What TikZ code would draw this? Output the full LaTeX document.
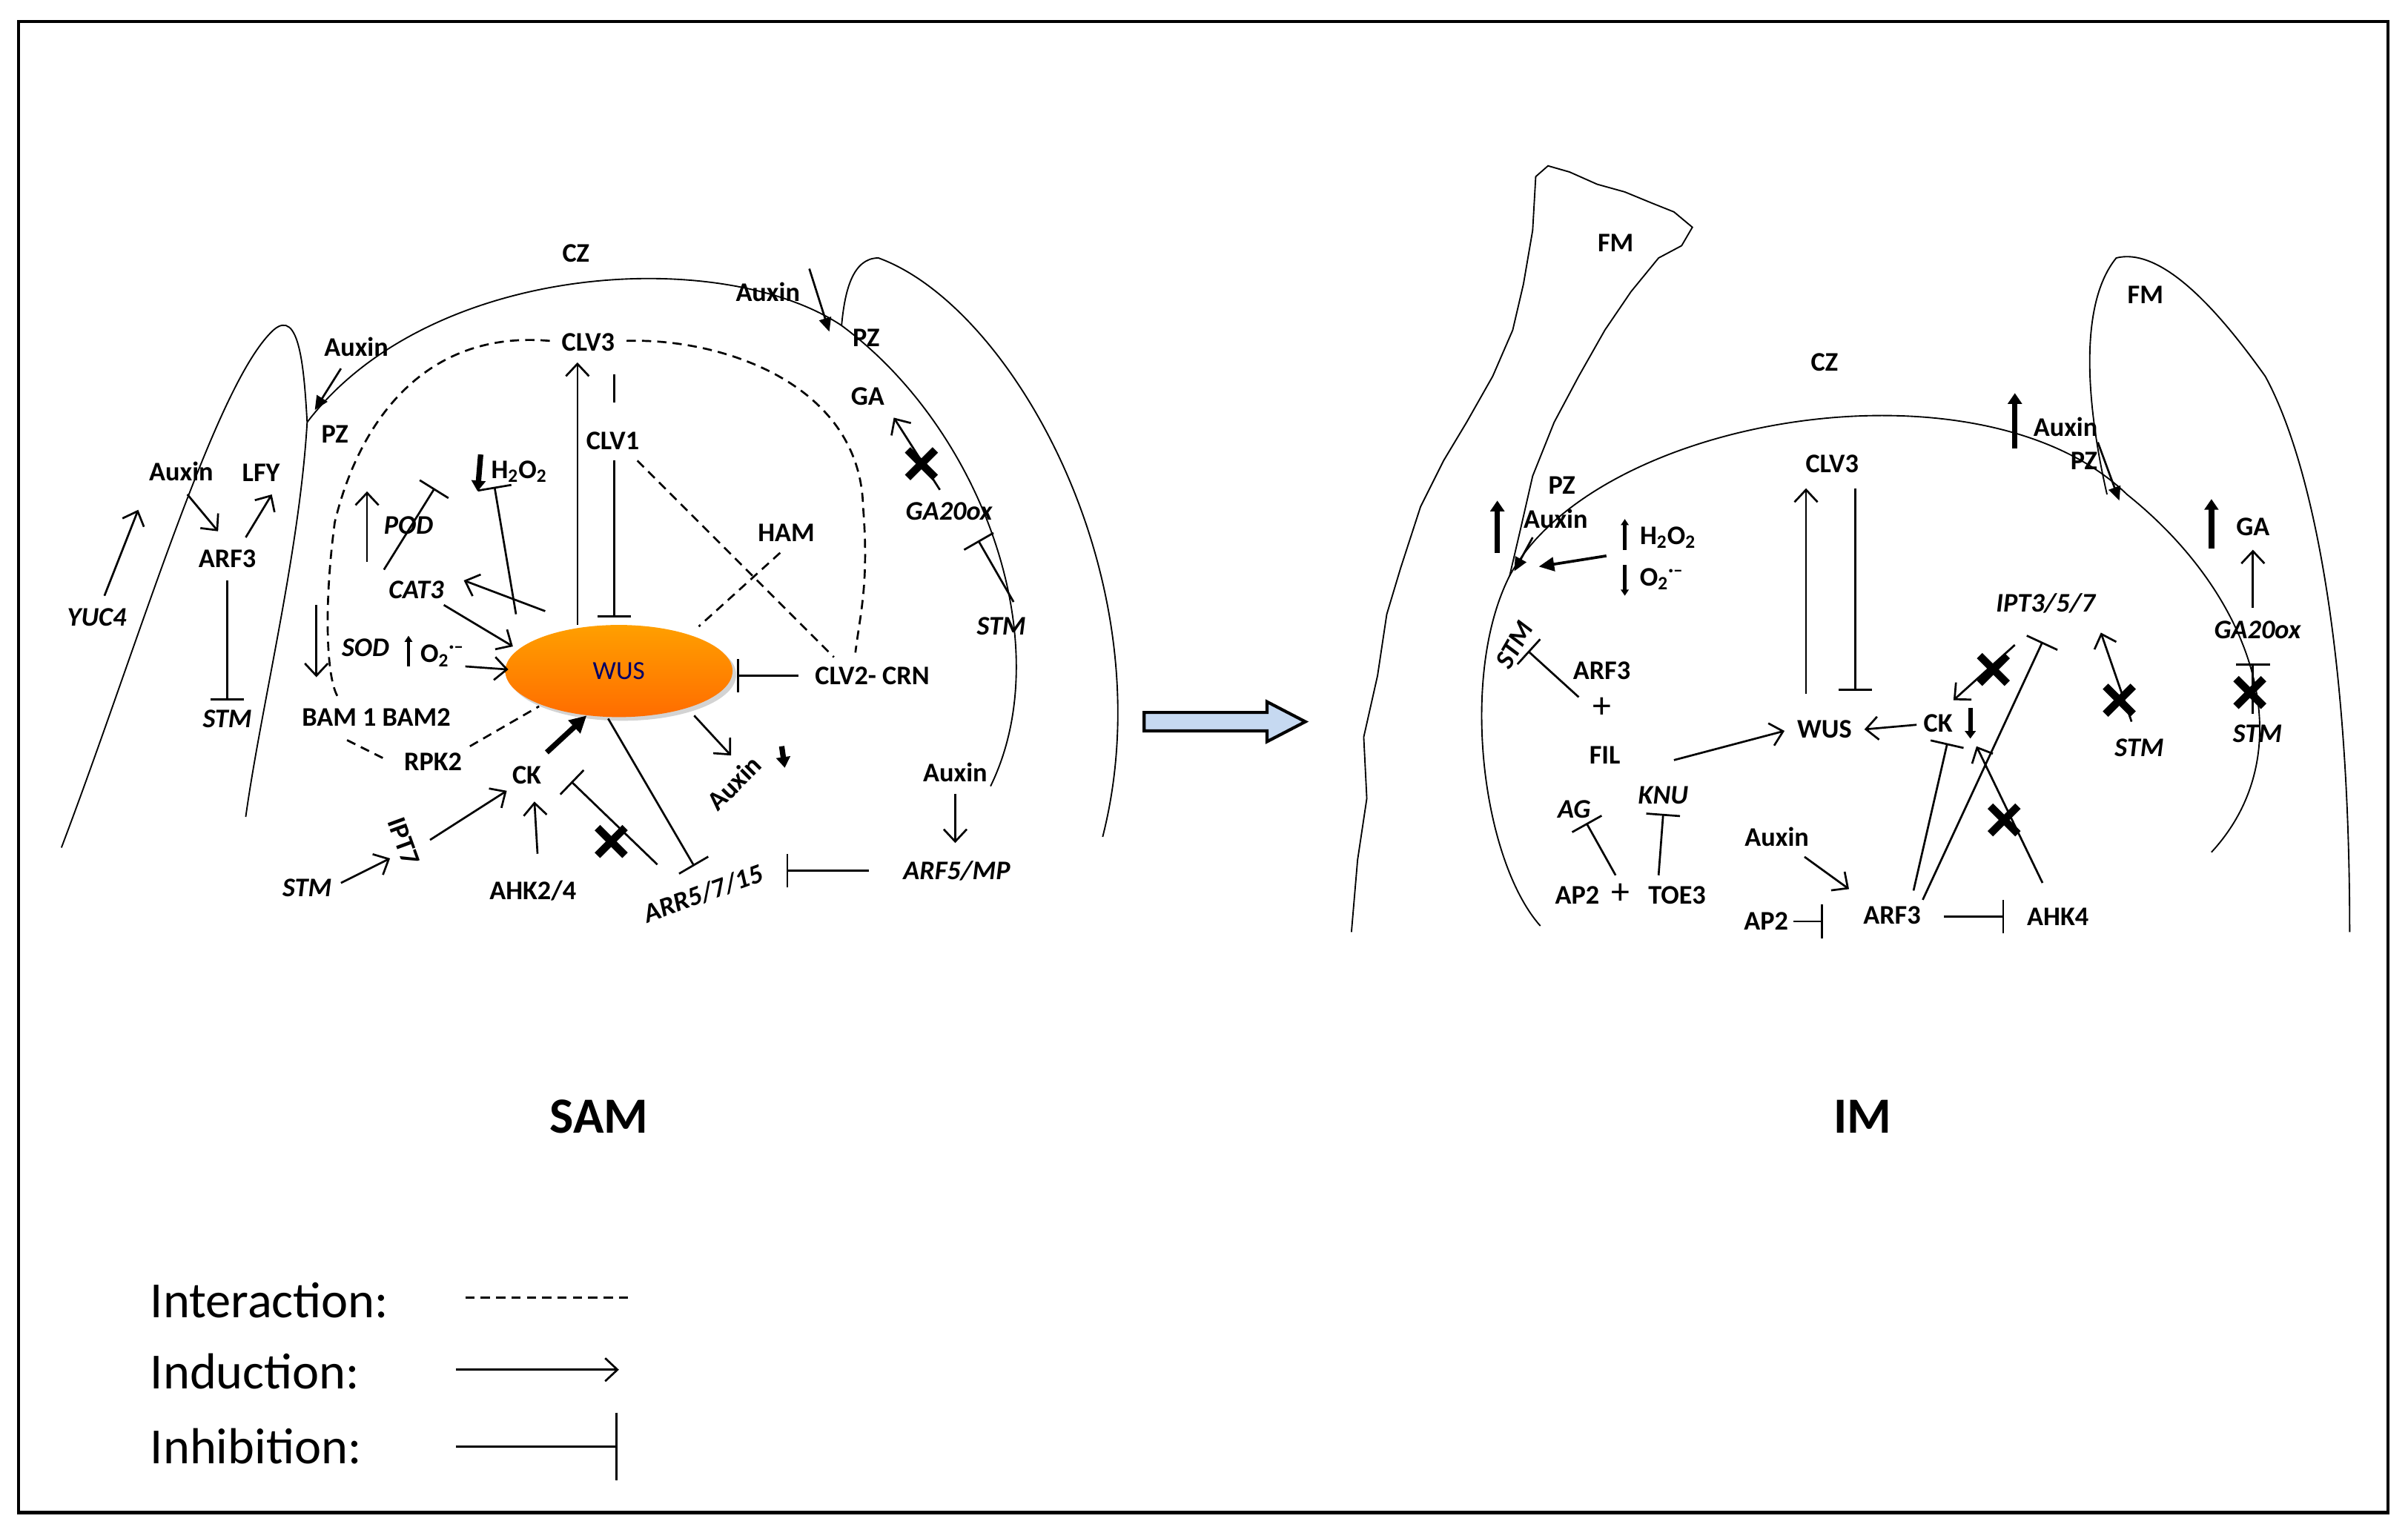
\documentclass[tikz,border=0pt]{standalone}
\usepackage{fontspec}
\setmainfont{Carlito}
\usetikzlibrary{arrows.meta,shapes.geometric,shadows,calc}
\definecolor{blk}{RGB}{198,217,241}
\begin{document}
\begin{tikzpicture}[x=1pt,y=-1pt,line width=1.3pt,
 lab/.style={font=\fontsize{17.5}{19}\selectfont\bfseries,inner sep=1pt},
 itl/.style={font=\fontsize{17.5}{19}\selectfont\bfseries\itshape,inner sep=1pt},
 ind/.style={-{Straight Barb[length=8pt,width=15pt]}},
 inh/.style={-{Bar[width=22pt]}},
 bold/.style={-{Triangle[length=7pt,width=9pt]},line width=3.5pt},
 dsh/.style={dashed,dash pattern=on 6pt off 4pt,line width=1.3pt},
 thin/.style={line width=0.9pt},
 xm/.style={line width=5pt}]
\useasboundingbox (0,0) rectangle (1568,996);
\draw[line width=2.2pt] (12,14) rectangle (1555,985);
\newcommand{\xmark}[2]{\draw[xm] ($(#1,#2)+(-9,-9)$)--($(#1,#2)+(9,9)$);\draw[xm] ($(#1,#2)+(-9,9)$)--($(#1,#2)+(9,-9)$);}
% ===== LEFT: SAM =====
\draw[thin] (40,552) .. controls (90,420) and (140,250) .. (178,215) .. controls (195,200) and (198,240) .. (200,275) .. controls (195,360) and (170,460) .. (160,532);
\draw[thin] (200,275) .. controls (280,170) and (470,160) .. (548,212) .. controls (640,280) and (690,420) .. (645,512);
\draw[thin] (548,212) .. controls (550,190) and (555,168) .. (572,168) .. controls (660,200) and (760,380) .. (718,545);
\node[lab] (cz) at (375,165) {CZ};
\node[lab] (aux1) at (232,226) {Auxin};
\node[lab] (pz1) at (218,283) {PZ};
\draw[-{Triangle[length=9pt,width=8pt]},line width=1.3pt] (222,240) -- (205,267);
\node[lab] (aux2) at (118,307) {Auxin};
\node[lab] (lfy) at (170,308) {LFY};
\node[lab] (arf3) at (148,364) {ARF3};
\node[itl] (yuc4) at (63,402) {YUC4};
\node[itl] (stm1) at (148,468) {STM};
\draw[ind] (122,322) -- (142,346);
\draw[ind] (160,350) -- (177,322);
\draw[ind] (68,388) -- (90,332);
\draw[inh] (148,378) -- (148,456);
\node[lab] (clv3) at (383,223) {CLV3};
\node[lab] (aux3) at (500,190) {Auxin};
\node[lab] (pz2) at (564,220) {PZ};
\draw[-{Triangle[length=9pt,width=8pt]},line width=1.3pt] (527,175) -- (540,216);
\node[lab] (ga) at (565,258) {GA};
\node[itl] (ga20) at (618,333) {GA20ox};
\draw[ind] (612,319) -- (582,272);
\xmark{600}{302}
\node[itl] (stm2) at (652,408) {STM};
\draw[inh] (660,392) -- (637,352);
\node[lab] (clv1) at (399,287) {CLV1};
\node[lab] (ham) at (512,347) {HAM};
% WUS
\node[ellipse,minimum width=148pt,minimum height=60pt,top color=orange!75!yellow,bottom color=orange!85!red,draw=none,drop shadow={opacity=0.35},text=blue!40!black,font=\fontsize{17}{18}\selectfont] (wus) at (403,437) {WUS};
\draw[ind] (376,407) -- (376,236);
\draw (400,244) -- (400,262);
\draw[inh] (400,300) -- (400,402);
% dashed
\draw[dsh] (358,222) .. controls (280,215) and (235,270) .. (218,340) .. controls (210,400) and (213,450) .. (222,456);
\draw[dsh] (408,222) .. controls (470,220) and (560,250) .. (562,330) .. controls (566,380) and (560,400) .. (557,425);
\draw[dsh] (415,300) -- (543,428);
\draw[dsh] (508,360) -- (455,408);
\draw[dsh] (226,482) -- (250,494);
\draw[dsh] (306,486) -- (351,460);
\node[lab] (bam) at (245,467) {BAM 1 BAM2};
\node[lab] (rpk2) at (282,496) {RPK2};
\node[lab] (h2o2) at (338,307) {H\textsubscript{2}O\textsubscript{2}};
\draw[bold] (313,296) -- (311,320);
\node[itl] (pod) at (266,342) {POD};
\draw[ind] (239,366) -- (239,320);
\node[itl] (cat3) at (271,384) {CAT3};
\node[itl] (sod) at (238,422) {SOD};
\draw[ind] (206,394) -- (206,441);
\node[lab] (o2) at (288,427) {O\textsubscript{2}\textsuperscript{·--}};
\draw[-{Triangle[length=4pt,width=5pt]},line width=2.2pt] (266,434) -- (266,414);
\draw[ind] (303,434) -- (331,436);
\draw[ind] (355,398) -- (302,378);
\draw[ind] (289,394) -- (334,421);
\draw[inh] (250,371) -- (283,318);
\draw[inh] (336,400) -- (322,317);
\node[lab] (crn) at (568,440) {CLV2- CRN};
\draw[inh] (520,440) -- (480,440);
\draw[ind] (452,466) -- (476,492);
\node[lab,rotate=45] (aux4) at (478,510) {Auxin};
\draw[bold] (509,486) -- (511,500);
\node[lab] (ck) at (343,505) {CK};
\draw[-{Triangle[length=11pt,width=11pt]},line width=3.5pt] (356,490) -- (382,466);
\node[lab,rotate=-70] (ipt7) at (263,548) {IPT7};
\node[itl] (stm3) at (200,578) {STM};
\draw[ind] (222,575) -- (254,559);
\draw[ind] (280,547) -- (330,515);
\node[lab] (ahk) at (347,580) {AHK2/4};
\draw[ind] (350,556) -- (348,522);
\node[itl,rotate=20] (arr) at (458,582) {ARR5/7/15};
\draw[inh] (428,563) -- (372,509);
\xmark{398}{548}
\draw[inh] (396,468) -- (452,564);
\node[itl] (arf5) at (623,567) {ARF5/MP};
\draw[inh] (566,567) -- (512,567);
\node[lab] (aux5) at (622,503) {Auxin};
\draw[ind] (622,517) -- (622,549);
% block arrow
\draw[line width=2pt,fill=blk] (745,464) -- (825,464) -- (825,457) -- (850,470) -- (825,483) -- (825,476) -- (745,476) -- cycle;
% ===== RIGHT: IM =====
\draw[thin] (880,607) -- (884,560) -- (890,520) -- (888,480) -- (897,440) -- (903,400) -- (912,370) -- (925,330) -- (940,300) -- (955,275) -- (972,245) -- (985,215) -- (992,185) -- (998,150) -- (1000,115) -- (1008,108) -- (1022,112) -- (1040,120) -- (1058,125) -- (1075,132) -- (1090,138) -- (1102,148) -- (1095,160) -- (1080,168) -- (1062,190) -- (1045,215) -- (1028,245) -- (1012,275) -- (998,310) -- (990,345) -- (983,375);
\draw[thin] (1372,322) .. controls (1360,270) and (1352,200) .. (1378,168) .. controls (1410,160) and (1450,210) .. (1475,245) .. controls (1505,300) and (1530,420) .. (1530,607);
\draw[thin] (1003,603) .. controls (965,560) and (950,440) .. (983,375) .. controls (1040,270) and (1290,230) .. (1385,322) .. controls (1470,390) and (1500,490) .. (1440,555);
\node[lab] (fm1) at (1052,158) {FM};
\node[lab] (fm2) at (1397,192) {FM};
\node[lab] (cz2) at (1188,236) {CZ};
\node[lab] (aux6) at (1345,278) {Auxin};
\draw[bold] (1312,292) -- (1312,256);
\node[lab] (pz3) at (1357,300) {PZ};
\draw[-{Triangle[length=9pt,width=8pt]},line width=1.3pt] (1366,288) -- (1380,326);
\node[lab] (pz4) at (1017,316) {PZ};
\node[lab] (aux7) at (1013,338) {Auxin};
\draw[bold] (975,360) -- (975,326);
\draw[-{Triangle[length=9pt,width=8pt]},line width=1.3pt] (998,350) -- (986,372);
\node[lab] (h2o2b) at (1086,350) {H\textsubscript{2}O\textsubscript{2}};
\draw[-{Triangle[length=4pt,width=5pt]},line width=2.2pt] (1058,358) -- (1058,338);
\node[lab] (o2b) at (1082,377) {O\textsubscript{2}\textsuperscript{·--}};
\draw[-{Triangle[length=4pt,width=5pt]},line width=2.2pt] (1058,368) -- (1058,388);
\draw[-{Triangle[length=10pt,width=9pt]},line width=1.8pt] (1046,362) -- (1002,369);
\node[lab] (clv3b) at (1193,302) {CLV3};
\node[lab] (wusb) at (1188,475) {WUS};
\draw[ind] (1176,452) -- (1176,318);
\draw[inh] (1208,318) -- (1208,450);
\node[lab] (ckb) at (1262,471) {CK};
\draw[-{Triangle[length=5pt,width=7pt]},line width=3pt] (1283,461) -- (1283,481);
\draw[ind] (1248,472) -- (1214,475);
\node[lab] (fil) at (1045,492) {FIL};
\draw[ind] (1090,495) -- (1162,476);
\node[itl,rotate=60] (stm4) at (986,420) {STM};
\node[lab] (arf3b) at (1043,437) {ARF3};
\draw[inh] (1028,454) -- (995,424);
\node[lab,font=\fontsize{24}{24}\selectfont] (plus1) at (1043,461) {+};
\node[itl] (ag) at (1025,527) {AG};
\node[itl] (knu) at (1083,518) {KNU};
\node[lab] (ap2) at (1027,583) {AP2};
\node[lab,font=\fontsize{24}{24}\selectfont] (plus2) at (1055,582) {+};
\node[lab] (toe3) at (1092,583) {TOE3};
\draw[inh] (1052,570) -- (1033,536);
\draw[inh] (1080,570) -- (1083,530);
\node[lab] (aux8) at (1157,545) {Auxin};
\draw[ind] (1175,558) -- (1204,579);
\node[lab] (ap2b) at (1150,600) {AP2};
\draw[inh] (1168,600) -- (1187,600);
\node[lab] (arf3c) at (1232,596) {ARF3};
\draw[inh] (1266,597) -- (1305,597);
\node[lab] (ahk4) at (1340,597) {AHK4};
\draw[inh] (1246,580) -- (1268,484);
\draw[inh] (1252,586) -- (1330,418);
\draw[ind] (1330,575) -- (1287,486);
\xmark{1305}{534}
\node[itl] (ipt) at (1332,393) {IPT3/5/7};
\draw[ind] (1312,420) -- (1272,456);
\xmark{1298}{436}
\node[itl] (stm5) at (1393,487) {STM};
\draw[ind] (1388,470) -- (1368,412);
\xmark{1380}{456}
\node[lab] (gab) at (1467,343) {GA};
\draw[bold] (1440,357) -- (1440,325);
\node[itl] (ga20b) at (1470,410) {GA20ox};
\draw[ind] (1467,396) -- (1467,358);
\node[itl] (stm6) at (1470,478) {STM};
\draw[inh] (1467,465) -- (1467,432);
\xmark{1465}{451}
% titles
\node[font=\fontsize{33}{35}\selectfont\bfseries] (sam) at (390,727) {SAM};
\node[font=\fontsize{33}{35}\selectfont\bfseries] (im) at (1213,727) {IM};
% legend
\node[anchor=west,font=\fontsize{33}{35}\selectfont] (l1) at (94,847) {Interaction:};
\node[anchor=west,font=\fontsize{33}{35}\selectfont] (l2) at (94,893) {Induction:};
\node[anchor=west,font=\fontsize{33}{35}\selectfont] (l3) at (94,942) {Inhibition:};
\draw[dsh] (303,845) -- (410,845);
\draw[ind] (297,892) -- (403,892);
\draw[-{Bar[width=44pt]}] (297,942) -- (402,942);
\end{tikzpicture}
\end{document}
